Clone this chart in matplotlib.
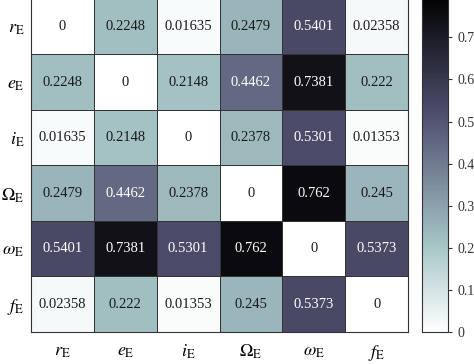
import numpy as np
import matplotlib.pyplot as plt

# orbital element labels
labels = [r'$r_{\mathrm{E}}$', r'$e_{\mathrm{E}}$', r'$i_{\mathrm{E}}$',
          r'$\Omega_{\mathrm{E}}$', r'$\omega_{\mathrm{E}}$', r'$f_{\mathrm{E}}$']

row_r = [0, 0.2248, 0.01635, 0.2479, 0.5401, 0.02358]
row_e = [0.2248, 0, 0.2148, 0.4462, 0.7381, 0.222]
row_i = [0.01635, 0.2148, 0, 0.2378, 0.5301, 0.01353]
row_Om = [0.2479, 0.4462, 0.2378, 0, 0.762, 0.245]
row_om = [0.5401, 0.7381, 0.5301, 0.762, 0, 0.5373]
row_f = [0.02358, 0.222, 0.01353, 0.245, 0.5373, 0]

cbar_ticks = [0, 0.1, 0.2, 0.3, 0.4, 0.5, 0.6, 0.7]

data = np.array([row_r, row_e, row_i, row_Om, row_om, row_f])

plt.rcParams['font.family'] = 'Liberation Serif'
plt.rcParams['mathtext.fontset'] = 'stix'

fig = plt.figure(figsize=(4.74, 3.64), dpi=100)
ax = fig.add_axes([0.0654, 0.088, 0.7956, 0.915])
cax = fig.add_axes([0.890, 0.088, 0.055, 0.925])

mesh = ax.pcolormesh(data, cmap='bone_r', vmin=0, vmax=0.8,
                     edgecolors='#333333', linewidth=0.7)
ax.set_xlim(0, 6)
ax.set_ylim(6, 0)

for i in range(6):
    for j in range(6):
        v = data[i, j]
        txt = '0' if v == 0 else ('%g' % v)
        ax.text(j + 0.5, i + 0.5, txt, ha='center', va='center',
                fontsize=10.5, color='white' if v > 0.4 else '#1a1a1a')

ax.set_xticks(np.arange(6) + 0.5)
ax.set_yticks(np.arange(6) + 0.5)
ax.set_xticklabels(labels, fontsize=13)
ax.set_yticklabels(labels, fontsize=13)
ax.tick_params(length=0, pad=8)
ax.tick_params(axis='y', pad=5)
for s in ax.spines.values():
    s.set_color('#333333')
    s.set_linewidth(0.8)

cb = fig.colorbar(mesh, cax=cax, ticks=cbar_ticks)
cb.ax.set_yticklabels(['0', '0.1', '0.2', '0.3', '0.4', '0.5', '0.6', '0.7'])
cb.ax.tick_params(labelsize=10, length=3, color='#333333', labelcolor='#333333', pad=4)
cb.outline.set_edgecolor('#333333')
cb.outline.set_linewidth(0.8)

fig.savefig('out.png', dpi=100)
